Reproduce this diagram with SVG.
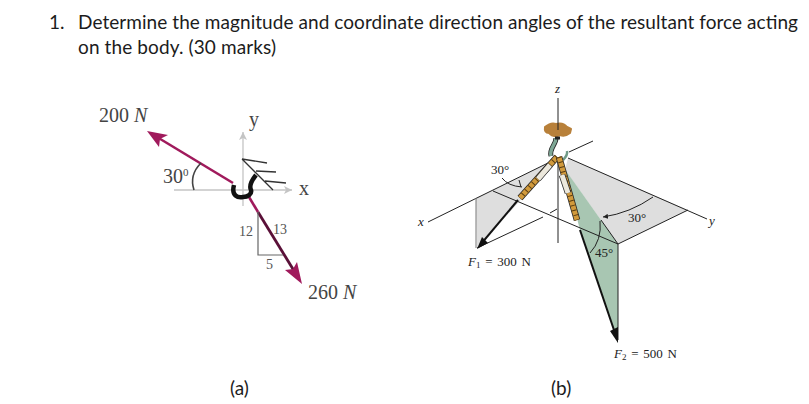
<svg xmlns="http://www.w3.org/2000/svg" width="809" height="404" viewBox="0 0 809 404">
<defs>
<marker id="g" markerWidth="9" markerHeight="8" refX="8" refY="4" orient="auto" markerUnits="userSpaceOnUse"><path d="M0,0L8,4L0,8L2,4Z" fill="#c4c4c4"/></marker>
<marker id="s" markerWidth="6" markerHeight="5" refX="5" refY="2.5" orient="auto-start-reverse" markerUnits="userSpaceOnUse"><path d="M0,0L5,2.5L0,5Z" fill="#222"/></marker>
</defs>
<style>
.h{font-family:Lato,"Liberation Sans",sans-serif;font-size:19px;fill:#1c1c1c}
.t{font-family:"Liberation Serif",serif;font-size:20px;fill:#444}
.u{font-family:"Liberation Serif",serif;font-size:13px;fill:#222}
.n{font-family:"Liberation Serif",serif;font-size:14px;fill:#555}
.i{font-style:italic}
.ax{stroke:#c4c4c4;stroke-width:1.3;fill:none}
.l{stroke:#222;stroke-width:1;fill:none}
.k{stroke:#333;stroke-width:1.3;fill:none}
.m{stroke:#a01a5c;stroke-width:2.6;fill:none}
.rope{stroke:#d19a3c;stroke-width:5;fill:none}
.twist{stroke:#5a3d10;stroke-width:5;stroke-dasharray:1 4;fill:none}
.sl{stroke:#222;stroke-width:6.5;fill:none}
.sw{stroke:#ece8dc;stroke-width:5;fill:none}
</style>
<text class="h" x="49" y="29">1.</text>
<text class="h" x="78" y="29" textLength="720" lengthAdjust="spacing">Determine the magnitude and coordinate direction angles of the resultant force acting</text>
<text class="h" x="78" y="54" textLength="198" lengthAdjust="spacing">on the body.  (30 marks)</text>

<g id="diagram-a">
<g id="connectors-a">
<path class="ax" d="M174,190H292" marker-end="url(#g)"/>
<path class="ax" d="M243,206V132" marker-end="url(#g)"/>
<path class="m" d="M233,183L152,134"/>
<path d="M147,131L168,135L160,139L159,147Z" fill="#a01a5c"/>
<path class="m" d="M249,197L258,212"/>
<path d="M258,212L296,274" stroke="#5a1038" stroke-width="2.8" fill="none"/>
<path d="M302,284L285,270L293,269L297,262Z" fill="#a01a5c"/>
<path d="M201,163Q189,175 194,190" stroke="#444" stroke-width="1.6" fill="none"/>
<path d="M258,212V255H283" stroke="#666" stroke-width="1.2" fill="none"/>
</g>
<g id="wall"><path class="k" d="M242,159L273,190M242,159L267,163M256,171L276,172M265,181L286,183"/></g>
<g id="hook"><path d="M234,185C231,196 238,198 243,197C248,197 252,194 251,190C249,186 252,180 256,175" stroke="#111" stroke-width="4.5" fill="none"/></g>
<text class="t" x="99" y="122">200 <tspan class="i">N</tspan></text>
<text class="t" x="163" y="183">30<tspan font-size="11" dy="-7">0</tspan></text>
<text class="t" x="249" y="126" font-size="21">y</text>
<text class="t" x="299" y="195">x</text>
<text class="n" x="239" y="236">12</text>
<text class="n" x="273" y="234">13</text>
<text class="n" x="266" y="269">5</text>
<text class="t" x="308" y="299">260 <tspan class="i">N</tspan></text>
<text class="h" x="230" y="395">(a)</text>
</g>

<g id="diagram-b">
<g id="planes">
<path d="M476,198L550,162L557,160L477,248Z" fill="#dedede"/>
<path d="M568,158L688,210L618,244L565,170Z" fill="#dedede"/>
<path d="M564,168L618,244V343L580,230Z" fill="#a8c6b2"/>
</g>
<g id="connectors-b">
<path class="l" d="M558,160V243"/>
<path class="l" d="M428,222L550,162M569,152L593,141"/>
<path class="l" d="M568,158L707,219"/>
<path class="l" d="M493,191L618,244L688,210"/>
<path class="l" d="M601,220L618,244V340"/>
<path class="l" d="M477,248L543,217M550,213L557,209"/>
<path d="M476,198V248" stroke="#777" stroke-width="1" fill="none"/>
<path d="M518,200L481,244" stroke="#111" stroke-width="2" fill="none"/>
<path d="M477,249L482,237L488,243Z" fill="#111"/>
<path d="M580,230L614,330" stroke="#111" stroke-width="2" fill="none"/>
<path d="M618,343L610,331L618,327Z" fill="#111"/>
<path class="l" d="M603,217Q630,213 653,197" marker-start="url(#s)"/>
<path class="l" d="M600,221Q602,240 590,253"/>
<path class="l" d="M502,178Q508,186 522,187M519,180L521,187"/>
</g>
<g id="mount">
<path d="M545,127Q551,122 556,124Q563,122 567,127L571,129L570,133Q565,137 560,135Q553,138 549,133Q544,133 545,127Z" fill="#b8803a" stroke="#b8803a" stroke-width="2" stroke-linejoin="round"/>
<path class="l" d="M558,98V130"/>
<path d="M556,138C556,145 549,148 551,156" stroke="#222" stroke-width="5" fill="none"/>
<path d="M556,138C556,145 549,148 551,156" stroke="#7ea795" stroke-width="3.4" fill="none"/>
<path d="M555,138h5" stroke="#222" stroke-width="3"/>
<path d="M567,151C568,155 565,158 563,160" stroke="#6f9a86" stroke-width="2.5" fill="none"/>
</g>
<g id="rope-1">
<path class="sl" d="M557,157L520,198"/>
<path class="rope" d="M557,157L520,198"/>
<path class="twist" d="M557,157L520,198"/>
<path class="sl" d="M550,165L538,179"/>
<path class="sw" d="M550,165L538,179"/>
</g>
<g id="rope-2">
<path class="sl" d="M559,157L577,220"/>
<path class="rope" d="M559,157L577,220"/>
<path class="twist" d="M559,157L577,220"/>
<path class="sl" d="M562,175L568,193"/>
<path class="sw" d="M562,175L568,193"/>
</g>
<text class="u" x="491" y="174">30°</text>
<text class="u" x="628" y="222">30°</text>
<text class="u" x="595" y="257">45°</text>
<text class="u i" x="418" y="226">x</text>
<text class="u i" x="709" y="225">y</text>
<text class="u i" x="555" y="93">z</text>
<text class="u" x="468" y="266" font-size="14" word-spacing="1.5"><tspan class="i">F</tspan><tspan font-size="9" dy="2">1</tspan><tspan dy="-2"> = 300 N</tspan></text>
<text class="u" x="614" y="358" font-size="14" word-spacing="1.5"><tspan class="i">F</tspan><tspan font-size="9" dy="2">2</tspan><tspan dy="-2"> = 500 N</tspan></text>
<text class="h" x="551" y="395">(b)</text>
</g>
</svg>
